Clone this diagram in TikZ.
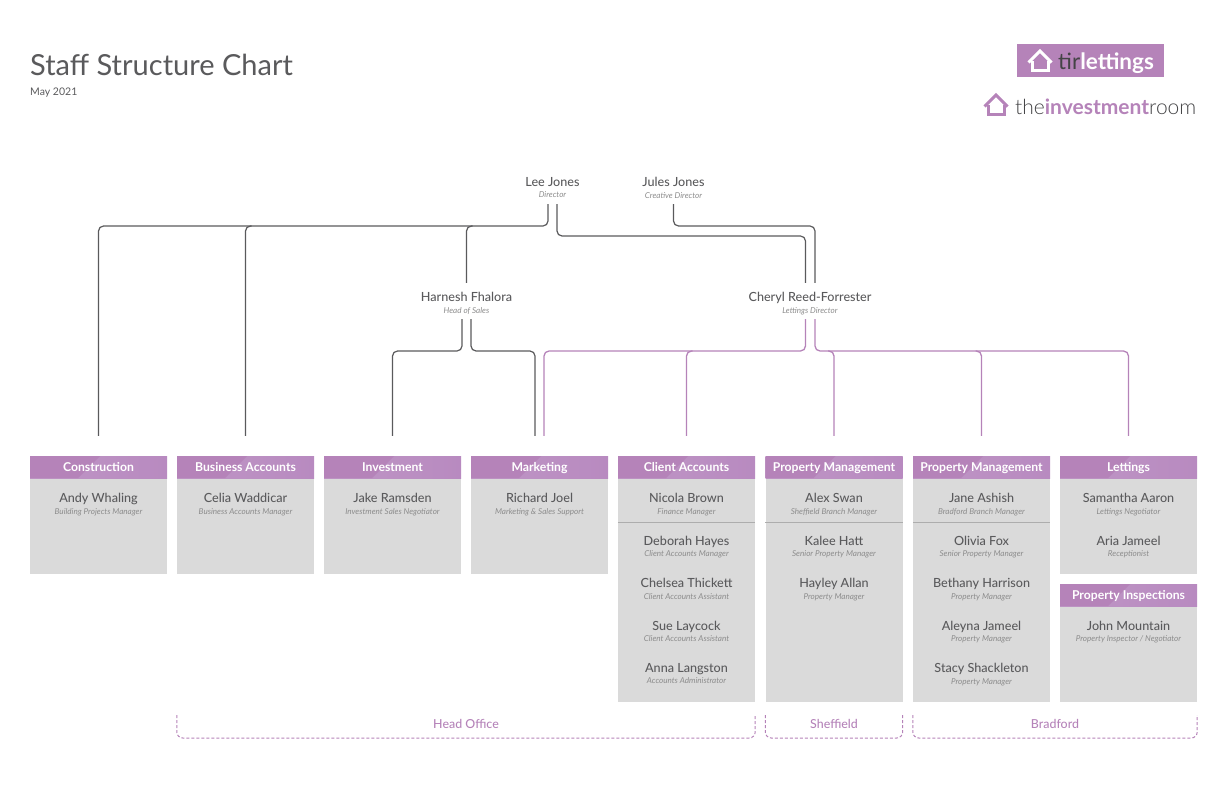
\documentclass[tikz,border=0pt]{standalone}
\usepackage{fontspec}
\setmainfont{Lato}
\newfontfamily\latolight{Lato Light}
\newfontfamily\latomed{Lato Medium}
\usepackage{xcolor}
\definecolor{inkgrey}{HTML}{5A5A5C}
\definecolor{logogrey}{HTML}{444446}
\definecolor{rolegrey}{HTML}{8C8C8C}
\definecolor{boxgrey}{HTML}{DADADA}
\definecolor{rulegrey}{HTML}{ADADAD}
\definecolor{tirpurple}{HTML}{B583B9}
\definecolor{tirlight}{HTML}{BF96C5}
\definecolor{tirmid}{HTML}{B88AC0}

\tikzset{
    headbox/.style={minimum width=137pt,minimum height=22pt,inner sep=0pt,text=white,
        text height=10pt,text depth=2pt,
        font=\fontsize{12.2}{13}\selectfont\bfseries,left color=tirlight,right color=tirmid,
        path picture={\fill[tirpurple] (path picture bounding box.north west)
            -- ([xshift=70pt]path picture bounding box.north west)
            -- ([xshift=48pt]path picture bounding box.south west)
            -- (path picture bounding box.south west) -- cycle;}},
    bodybox/.style={fill=boxgrey,minimum width=137pt,inner sep=0pt},
    person/.style={align=center,inner sep=0pt,minimum height=30pt,text=inkgrey,
        font=\fontsize{12.6}{13}\selectfont\latomed},
    stemgrey/.style={draw=inkgrey,line width=1.2pt,rounded corners=5pt},
    stempurple/.style={draw=tirpurple,line width=1.3pt,rounded corners=5pt},
    bracket/.style={draw=tirpurple,line width=1pt,dash pattern=on 3pt off 2pt,rounded corners=6pt},
    officename/.style={text=tirpurple,font=\fontsize{12.4}{13}\selectfont\latomed},
    pics/homeicon/.style={code={
        \draw[#1,line width=3pt,line join=miter] (-8,0) -- (-8,9.5) -- (8,9.5) -- (8,0);
        \draw[#1,line width=3pt,line join=miter] (-11.5,1.5) -- (0,-10) -- (11.5,1.5);
    }}
}
\newcommand{\who}[2]{{\strut #1}\\[-1.5pt]{\normalfont\fontsize{8.1}{9}\selectfont\itshape\color{rolegrey}\strut #2}}

\begin{document}
\begin{tikzpicture}[x=1pt,y=-1pt]
        \useasboundingbox (0,0) rectangle (1220,789);

        % heading and logos
        \node[anchor=base west,inner sep=0pt,text=inkgrey,font=\fontsize{29}{32}\selectfont] (title) at (30,76) {Staff Structure Chart};
        \node[anchor=base west,inner sep=0pt,text=inkgrey,font=\fontsize{10.5}{13}\selectfont] (date) at (30,96) {May 2021};
        \node[fill=tirpurple,minimum width=147pt,minimum height=33pt,inner sep=0pt] (tirlogo) at (1090,60.5) {};
        \pic at (1040,61) {homeicon=white};
        \node[anchor=base west,inner sep=0pt,font=\fontsize{22.5}{24}\selectfont] (tirname) at (1058,70) {\textcolor{logogrey}{tir}\textcolor{white}{\bfseries lettings}};
        \pic at (996,105) {homeicon=tirpurple};
        \node[anchor=base west,inner sep=0pt,font=\fontsize{21}{24}\selectfont] (troomname) at (1015,114) {\textcolor{logogrey}{\latolight the}\textcolor{tirpurple}{\bfseries investment}\textcolor{logogrey}{\latolight room}};

        % directors and heads
        \node[person] (lee) at (552.5,189) {\who{Lee Jones}{Director}};
        \node[person] (jules) at (673.5,189) {\who{Jules Jones}{Creative Director}};
        \node[person] (harnesh) at (466.5,304) {\who{Harnesh Fhalora}{Head of Sales}};
        \node[person] (cheryl) at (810,304) {\who{Cheryl Reed-Forrester}{Lettings Director}};

        % departments
        \foreach \dep/\x/\ytop/\ybot/\hd in {
            construction/98.5/456/574/Construction,
            business/245.5/456/574/Business Accounts,
            investment/392.5/456/574/Investment,
            marketing/539.5/456/574/Marketing,
            client/686.5/456/702/Client Accounts,
            sheffield/834/456/702/Property Management,
            bradford/981.5/456/702/Property Management,
            lettings/1128.5/456/574/Lettings,
            inspections/1128.5/584/702/Property Inspections}{
            \node[bodybox,minimum height={(\ybot-\ytop)*1pt}] (\dep body) at (\x,{(\ytop+\ybot)/2}) {};
            \node[headbox] (\dep) at (\x,\ytop+11) {\hd};
        }

        % staff
        \foreach \pid/\x/\y/\nm/\job in {
            andy/98.5/505/Andy Whaling/Building Projects Manager,
            celia/245.5/505/Celia Waddicar/Business Accounts Manager,
            jake/392.5/505/Jake Ramsden/Investment Sales Negotiator,
            richard/539.5/505/Richard Joel/Marketing \& Sales Support,
            nicola/686.5/505/Nicola Brown/Finance Manager,
            deborah/686.5/547.5/Deborah Hayes/Client Accounts Manager,
            chelsea/686.5/590/Chelsea Thickett/Client Accounts Assistant,
            sue/686.5/632.5/Sue Laycock/Client Accounts Assistant,
            anna/686.5/675/Anna Langston/Accounts Administrator,
            alex/834/505/Alex Swan/Sheffield Branch Manager,
            kalee/834/547.5/Kalee Hatt/Senior Property Manager,
            hayley/834/590/Hayley Allan/Property Manager,
            jane/981.5/505/Jane Ashish/Bradford Branch Manager,
            olivia/981.5/547.5/Olivia Fox/Senior Property Manager,
            bethany/981.5/590/Bethany Harrison/Property Manager,
            aleyna/981.5/632.5/Aleyna Jameel/Property Manager,
            stacy/981.5/675/Stacy Shackleton/Property Manager,
            samantha/1128.5/505/Samantha Aaron/Lettings Negotiator,
            aria/1128.5/547.5/Aria Jameel/Receptionist,
            john/1128.5/632.5/John Mountain/{Property Inspector / Negotiator}}{
            \node[person] (\pid) at (\x,\y) {\who{\nm}{\job}};
        }

        % branch manager rules
        \foreach \dep in {client,sheffield,bradford}{
            \draw[rulegrey,line width=.7pt] (\dep body.west |- 0,522.5) -- (\dep body.east |- 0,522.5);
        }

        % stems
        \coordinate (leeL) at ([xshift=-4.5pt]lee.south);
        \coordinate (leeR) at ([xshift=4.5pt]lee.south);
        \coordinate (harnL) at ([xshift=-4.5pt]harnesh.south);
        \coordinate (harnR) at ([xshift=4.5pt]harnesh.south);
        \coordinate (cherL) at ([xshift=-4.5pt]cheryl.south);
        \coordinate (cherR) at ([xshift=5pt]cheryl.south);

        % grey reporting lines
        \draw[stemgrey] (leeL) -- (leeL |- 0,226) -- (construction.north |- 0,226) -- ([yshift=20pt]construction.north);
        \draw[stemgrey] ([xshift=6pt]business.north |- 0,226) -- (business.north |- 0,226) -- ([yshift=20pt]business.north);
        \draw[stemgrey] ([xshift=6pt]harnesh.north |- 0,226) -- (harnesh.north |- 0,226) -- ([yshift=6pt]harnesh.north);
        \draw[stemgrey] (leeR) -- (leeR |- 0,236) -- ([xshift=-4.5pt]cheryl.north |- 0,236) -- ([xshift=-4.5pt,yshift=6pt]cheryl.north);
        \draw[stemgrey] (jules.south) -- (jules.south |- 0,226) -- ([xshift=5pt]cheryl.north |- 0,226) -- ([xshift=5pt,yshift=6pt]cheryl.north);
        \draw[stemgrey] (harnL) -- (harnL |- 0,351) -- (investment.north |- 0,351) -- ([yshift=20pt]investment.north);
        \draw[stemgrey] (harnR) -- (harnR |- 0,351) -- ([xshift=-4.5pt]marketing.north |- 0,351) -- ([xshift=-4.5pt,yshift=20pt]marketing.north);

        % purple reporting lines
        \draw[stempurple] (cherL) -- (cherL |- 0,351) -- ([xshift=4.5pt]marketing.north |- 0,351) -- ([xshift=4.5pt,yshift=20pt]marketing.north);
        \draw[stempurple] ([xshift=6pt]client.north |- 0,351) -- (client.north |- 0,351) -- ([yshift=20pt]client.north);
        \draw[stempurple] (cherR) -- (cherR |- 0,351) -- (lettings.north |- 0,351) -- ([yshift=20pt]lettings.north);
        \foreach \dep in {sheffield,bradford}{
            \draw[stempurple] ([xshift=-6pt]\dep.north |- 0,351) -- (\dep.north |- 0,351) -- ([yshift=20pt]\dep.north);
        }

        % offices
        \draw[bracket] (businessbody.south west |- 0,715) -- (businessbody.south west |- 0,738) -- (clientbody.south east |- 0,738) -- (clientbody.south east |- 0,715);
        \draw[bracket] (sheffieldbody.south west |- 0,715) -- (sheffieldbody.south west |- 0,738) -- (sheffieldbody.south east |- 0,738) -- (sheffieldbody.south east |- 0,715);
        \draw[bracket] (bradfordbody.south west |- 0,715) -- (bradfordbody.south west |- 0,738) -- (inspectionsbody.south east |- 0,738) -- (inspectionsbody.south east |- 0,715);
        \node[officename] (headoffice) at (466,724) {Head Office};
        \node[officename] (sheffieldname) at (834,724) {Sheffield};
        \node[officename] (bradfordname) at (1055,724) {Bradford};
\end{tikzpicture}
\end{document}
